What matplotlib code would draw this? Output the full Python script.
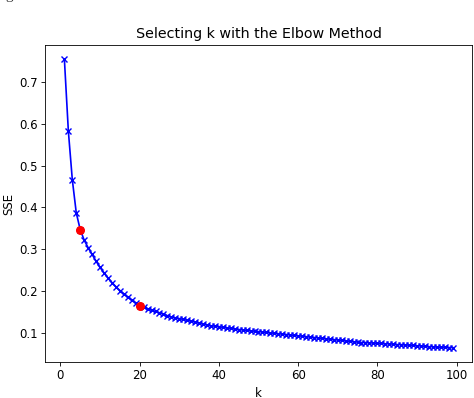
import numpy as np
import matplotlib
matplotlib.use('Agg')
import matplotlib.pyplot as plt

# SSE, k = 1..99
K = list(range(1, 100))
sse = [0.753, 0.582, 0.466, 0.387, 0.347, 0.322, 0.304, 0.288, 0.272, 0.257,
       0.244, 0.232, 0.221, 0.211, 0.202, 0.194, 0.186, 0.179, 0.172, 0.166,
       0.162, 0.158, 0.155, 0.152, 0.149, 0.146, 0.142, 0.139, 0.137, 0.135,
       0.133, 0.131, 0.129, 0.127, 0.124, 0.122, 0.120, 0.118, 0.117, 0.116,
       0.114, 0.113, 0.112, 0.110, 0.109, 0.108, 0.107, 0.106, 0.105, 0.104,
       0.103, 0.102, 0.101, 0.100, 0.099, 0.098, 0.097, 0.096, 0.095, 0.094,
       0.093, 0.092, 0.091, 0.090, 0.089, 0.088, 0.087, 0.086, 0.085, 0.084,
       0.083, 0.082, 0.081, 0.080, 0.079, 0.078, 0.078, 0.077, 0.077, 0.076,
       0.076, 0.075, 0.075, 0.074, 0.073, 0.073, 0.072, 0.072, 0.071, 0.070,
       0.070, 0.069, 0.068, 0.068, 0.067, 0.067, 0.067, 0.066, 0.066]

# highlighted k values
chosen_k = [5, 20]
chosen_sse = [sse[k - 1] for k in chosen_k]

fig = plt.figure(figsize=(4.74, 3.98), dpi=100)
ax = fig.add_axes([0.0949, 0.0905, 0.9009, 0.7965])

ax.plot(K, sse, 'bx-', linewidth=1.2, markersize=5, markeredgewidth=1.0)
ax.plot(chosen_k, chosen_sse, 'ro', markersize=5.5)

ax.set_xlabel('k', fontsize=8.5, labelpad=3)
ax.set_ylabel('SSE', fontsize=8.5, labelpad=3)
ax.set_title('Selecting k with the Elbow Method', fontsize=10.3, pad=5)
ax.tick_params(labelsize=8.5, length=2.8, width=0.6, pad=2.5)
for s in ax.spines.values():
    s.set_linewidth(0.6)

# leftover caption fragment from the page above
fig.text(0.012, 1.012, 'g', fontsize=11, family='Liberation Serif', va='center', color='#333333')

fig.savefig('out.png', dpi=100)
